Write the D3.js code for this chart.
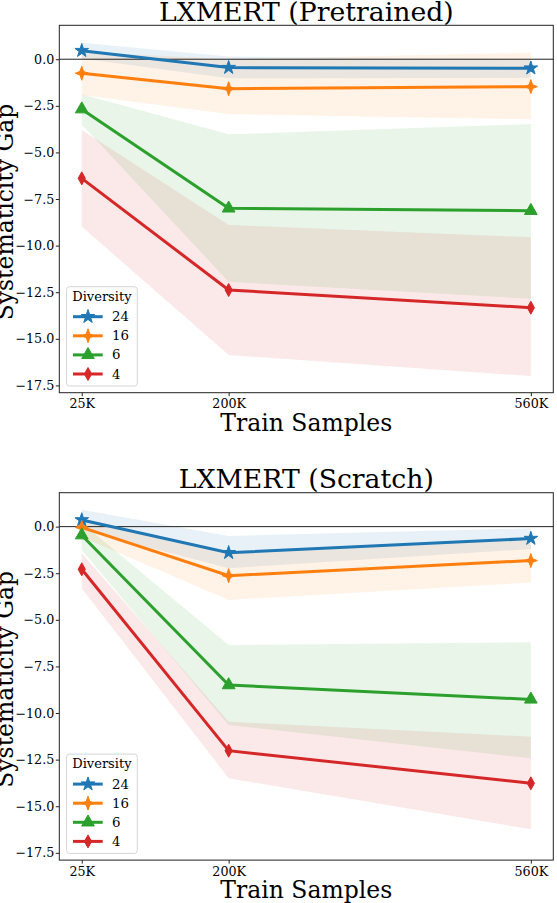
<!DOCTYPE html>
<html>
<head>
<meta charset="utf-8">
<script src="https://cdn.jsdelivr.net/npm/d3@7"></script>
<style>
  body { margin: 0; background: #fff; }
  text { font-family: "DejaVu Serif", serif; fill: #000; }
</style>
</head>
<body>
<div id="chart"></div>
<script>
// chart data ---------------------------------------------------------------
const samples = [25, 200, 560];
const sampleLabels = ["25K", "200K", "560K"];
const diversity = ["24", "16", "6", "4"];
const yTicks = [0, -2.5, -5, -7.5, -10, -12.5, -15, -17.5];

// LXMERT (Pretrained)
const preMean24 = [0.46, -0.45, -0.48];
const preLow24 = [0.04, -1.02, -1.0];
const preHigh24 = [0.88, 0.14, 0.0];
const preMean16 = [-0.75, -1.58, -1.47];
const preLow16 = [-1.92, -2.94, -3.22];
const preHigh16 = [0.4, 0.0, 0.35];
const preMean6 = [-2.68, -8.0, -8.13];
const preLow6 = [-3.5, -11.94, -12.85];
const preHigh6 = [-1.88, -4.03, -3.48];
const preMean4 = [-6.39, -12.38, -13.33];
const preLow4 = [-8.98, -15.87, -17.0];
const preHigh4 = [-3.8, -8.89, -9.55];

// LXMERT (Scratch)
const scrMean24 = [0.36, -1.40, -0.64];
const scrLow24 = [-0.18, -2.23, -1.2];
const scrHigh24 = [0.9, -0.5, -0.09];
const scrMean16 = [-0.04, -2.63, -1.82];
const scrLow16 = [-0.55, -3.93, -3.0];
const scrHigh16 = [0.45, -1.33, -0.64];
const scrMean6 = [-0.46, -8.50, -9.27];
const scrLow6 = [-1.25, -10.64, -12.43];
const scrHigh6 = [0.2, -6.35, -6.2];
const scrMean4 = [-2.29, -12.02, -13.77];
const scrLow4 = [-3.31, -13.5, -16.24];
const scrHigh4 = [-1.43, -10.47, -11.27];

const colors = ["#1f77b4", "#ff7f0e", "#2ca02c", "#d62728"];

// marker shapes
const starPath = d3.symbol().type(d3.symbolStar).size(58)();
const trianglePath = d3.symbol().type(d3.symbolTriangle).size(70)();
const sparklePath = "M0,-7L1.8,-1.8L6.5,0L1.8,1.8L0,7L-1.8,1.8L-6.5,0L-1.8,-1.8Z";
const thinDiamondPath = "M0,-6.5L3.6,0L0,6.5L-3.6,0Z";
const markers = [starPath, sparklePath, trianglePath, thinDiamondPath];

// layout ---------------------------------------------------------------
const svgWidth = 557;
const svgHeight = 903;
const plotLeft = 59.3;
const plotRight = 553.3;
const plotHeight = 367.4;

const svg = d3.select("#chart").append("svg")
    .attr("width", svgWidth)
    .attr("height", svgHeight);

const x = d3.scaleLinear()
    .domain([-1.75, 586.75])
    .range([plotLeft, plotRight]);

const drawPanel = (top, title, series) => {

    const y = d3.scaleLinear()
        .domain([-17.89, 1.82])
        .range([top + plotHeight, top]);

    const g = svg.append("g");

    // bands
    const area = d3.area()
        .x((d, i) => x(samples[i]))
        .y0(d => y(d[0]))
        .y1(d => y(d[1]));

    series.forEach((s, k) => {
        g.append("path")
            .datum(s.low.map((v, i) => [v, s.high[i]]))
            .attr("d", area)
            .attr("fill", colors[k])
            .attr("fill-opacity", 0.1);
    });

    // zero line
    g.append("line")
        .attr("x1", plotLeft)
        .attr("x2", plotRight)
        .attr("y1", y(0))
        .attr("y2", y(0))
        .attr("stroke", "#222")
        .attr("stroke-width", 1);

    // lines + markers
    const line = d3.line()
        .x((d, i) => x(samples[i]))
        .y(d => y(d));

    series.forEach((s, k) => {
        g.append("path")
            .datum(s.mean)
            .attr("d", line)
            .attr("fill", "none")
            .attr("stroke", colors[k])
            .attr("stroke-width", 3);

        g.selectAll(null)
            .data(s.mean)
            .enter()
            .append("path")
            .attr("d", markers[k])
            .attr("transform", (d, i) => `translate(${x(samples[i])}, ${y(d)})`)
            .attr("fill", colors[k])
            .attr("stroke", colors[k])
            .attr("stroke-width", 1);
    });

    // axes
    const yAxisG = g.append("g")
        .attr("transform", `translate(${plotLeft}, 0)`)
        .call(d3.axisLeft(y)
            .tickValues(yTicks)
            .tickFormat(d3.format(".1f"))
            .tickSize(3.5)
            .tickPadding(1.5));

    const xAxisG = g.append("g")
        .attr("transform", `translate(0, ${top + plotHeight})`)
        .call(d3.axisBottom(x)
            .tickValues(samples)
            .tickFormat((d, i) => sampleLabels[i])
            .tickSize(3.5)
            .tickPadding(3));

    [yAxisG, xAxisG].forEach(a => {
        a.select(".domain").remove();
        a.selectAll(".tick line").attr("stroke", "#222");
        a.selectAll(".tick text")
            .attr("font-family", "DejaVu Serif")
            .attr("font-size", 12.7)
            .attr("fill", "#000");
    });

    // frame
    g.append("rect")
        .attr("x", plotLeft)
        .attr("y", top)
        .attr("width", plotRight - plotLeft)
        .attr("height", plotHeight)
        .attr("fill", "none")
        .attr("stroke", "#222")
        .attr("stroke-width", 1);

    // labels
    g.append("text")
        .attr("x", (plotLeft + plotRight) / 2)
        .attr("y", top - 4.6)
        .attr("text-anchor", "middle")
        .attr("font-size", 26.7)
        .text(title);

    g.append("text")
        .attr("x", (plotLeft + plotRight) / 2)
        .attr("y", top + plotHeight + 38)
        .attr("text-anchor", "middle")
        .attr("font-size", 23.5)
        .text("Train Samples");

    g.append("text")
        .attr("transform", `translate(12.5, ${top + plotHeight / 2 + 3}) rotate(-90)`)
        .attr("text-anchor", "middle")
        .attr("font-size", 23.5)
        .text("Systematicity Gap");

    // legend
    const legend = g.append("g")
        .attr("transform", `translate(${plotLeft + 7.2}, ${top + plotHeight - 6.7 - 99.3})`);

    legend.append("rect")
        .attr("width", 70.8)
        .attr("height", 99.3)
        .attr("rx", 3)
        .attr("fill", "#fff")
        .attr("fill-opacity", 0.8)
        .attr("stroke", "#d6d6d6")
        .attr("stroke-width", 1);

    legend.append("text")
        .attr("x", 35.4)
        .attr("y", 14.3)
        .attr("text-anchor", "middle")
        .attr("font-size", 13)
        .text("Diversity");

    diversity.forEach((name, k) => {
        const cy = 30 + k * 19.1;
        legend.append("line")
            .attr("x1", 6.5)
            .attr("x2", 36.2)
            .attr("y1", cy)
            .attr("y2", cy)
            .attr("stroke", colors[k])
            .attr("stroke-width", 3);
        legend.append("path")
            .attr("d", markers[k])
            .attr("transform", `translate(21.5, ${cy})`)
            .attr("fill", colors[k])
            .attr("stroke", colors[k])
            .attr("stroke-width", 1);
        legend.append("text")
            .attr("x", 45.5)
            .attr("y", cy + 4.6)
            .attr("font-size", 13.3)
            .text(name);
    });
};

drawPanel(25.3, "LXMERT (Pretrained)", [
    {mean: preMean24, low: preLow24, high: preHigh24},
    {mean: preMean16, low: preLow16, high: preHigh16},
    {mean: preMean6, low: preLow6, high: preHigh6},
    {mean: preMean4, low: preLow4, high: preHigh4}
]);

drawPanel(492.7, "LXMERT (Scratch)", [
    {mean: scrMean24, low: scrLow24, high: scrHigh24},
    {mean: scrMean16, low: scrLow16, high: scrHigh16},
    {mean: scrMean6, low: scrLow6, high: scrHigh6},
    {mean: scrMean4, low: scrLow4, high: scrHigh4}
]);
</script>
</body>
</html>
